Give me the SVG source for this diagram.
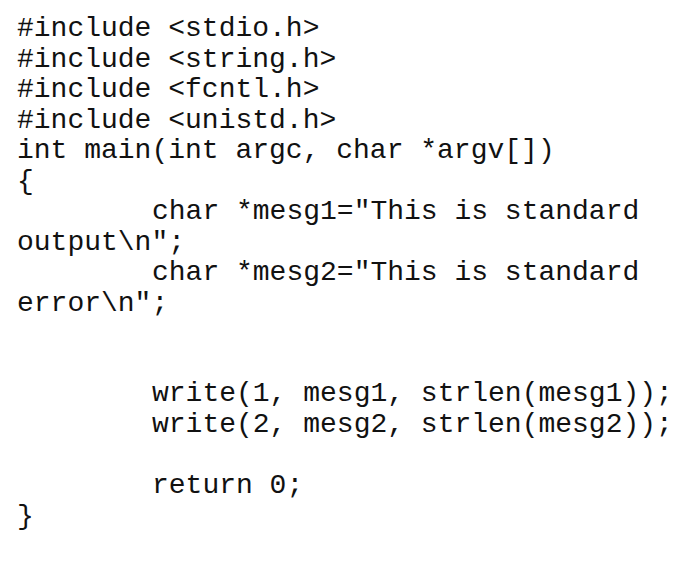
<svg xmlns="http://www.w3.org/2000/svg" width="700" height="562" viewBox="0 0 700 562">
<style>text{font-family:"Liberation Mono","DejaVu Sans Mono",monospace;font-size:28px;fill:#111;white-space:pre}</style>
<rect width="700" height="562" fill="#fff"/>
<text x="17" y="36">#include &lt;stdio.h&gt;</text>
<text x="17" y="66.5">#include &lt;string.h&gt;</text>
<text x="17" y="97">#include &lt;fcntl.h&gt;</text>
<text x="17" y="127.5">#include &lt;unistd.h&gt;</text>
<text x="17" y="158">int main(int argc, char *argv[])</text>
<text x="17" y="188.5">{</text>
<text x="152" y="219">char *mesg1="This is standard</text>
<text x="17" y="249.5">output\n";</text>
<text x="152" y="280">char *mesg2="This is standard</text>
<text x="17" y="310.5">error\n";</text>
<text x="152" y="401">write(1, mesg1, strlen(mesg1));</text>
<text x="152" y="431.5">write(2, mesg2, strlen(mesg2));</text>
<text x="152" y="493">return 0;</text>
<text x="17" y="523.5">}</text>
</svg>
